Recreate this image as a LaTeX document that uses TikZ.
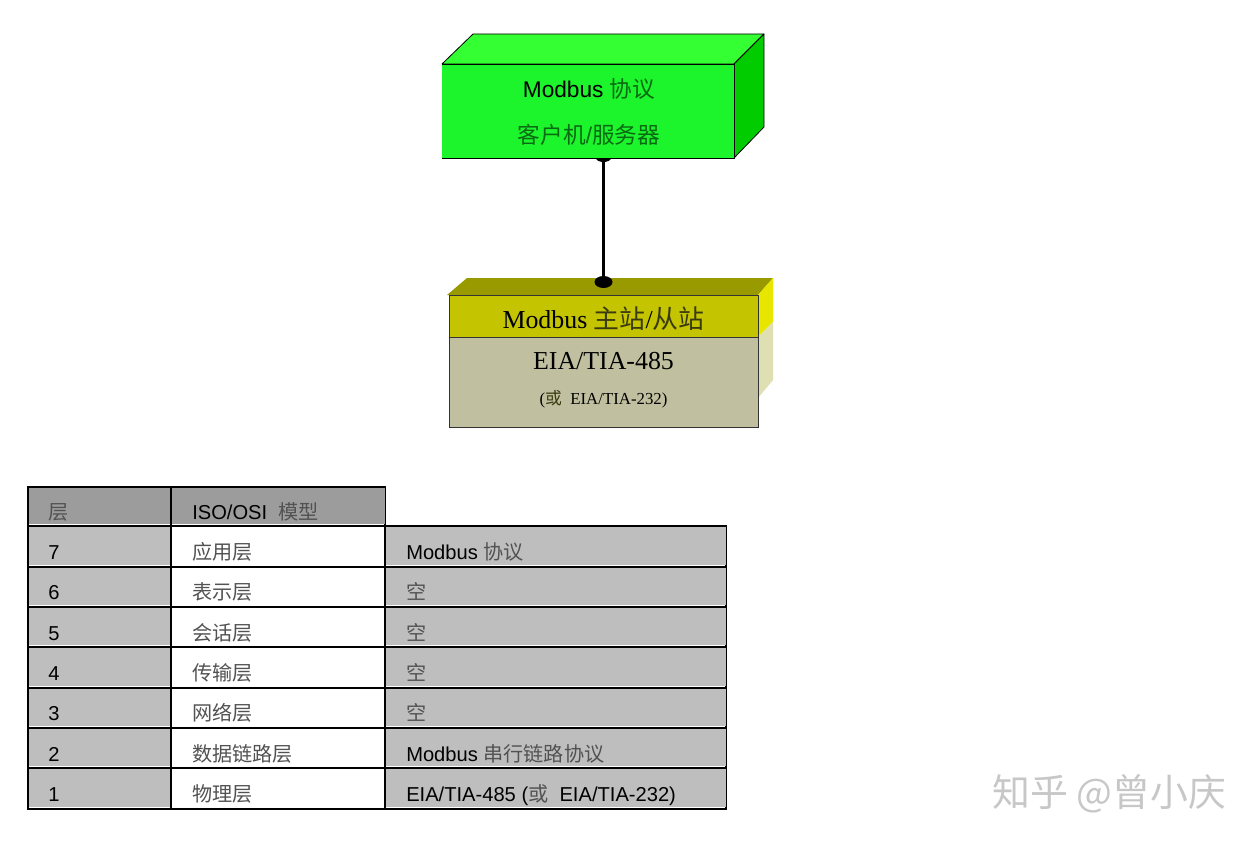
\documentclass[tikz,border=0pt]{standalone}
\usepackage{fontspec}
\setmainfont{Liberation Sans}
\newfontfamily\timesf{Liberation Serif}
\newfontfamily\cjk{Noto Sans CJK SC}
\usetikzlibrary{shapes.geometric,fit}
\definecolor{greenfront}{HTML}{1CF52C}
\definecolor{greentop}{HTML}{33FF33}
\definecolor{greenside}{HTML}{00CC00}
\definecolor{olivetop}{HTML}{999900}
\definecolor{olivefront}{HTML}{C4C400}
\definecolor{oliveside}{HTML}{E6E600}
\definecolor{khakifront}{HTML}{C0C0A0}
\definecolor{khakiside}{HTML}{DFDFB4}
\definecolor{headgray}{HTML}{9C9C9C}
\definecolor{cellgray}{HTML}{BEBEBE}
\definecolor{greeninkcjk}{HTML}{0A6A12}
\definecolor{oliveinkcjk}{HTML}{3A3A10}
\newcommand{\zh}[1]{{\cjk\color{black!68}#1}}
\newcommand{\zhc}[2]{{\cjk\color{#1}#2}}
\tikzset{
  face/.style={draw=black,line width=0.6pt,line join=round},
  softface/.style={line join=round},
  dot/.style={ellipse,fill=black,inner sep=0pt},
  box/.style={inner sep=0pt,outer sep=0pt,draw=black!80,line width=0.65pt},
  bareface/.style={inner sep=0pt,outer sep=0pt},
  label/.style={inner sep=0pt,anchor=base},
  celltxt/.style={inner sep=0pt,anchor=base west,font=\fontsize{15.1}{15}\selectfont},
  cellbox/.style={inner sep=0pt,outer sep=0pt,draw=black,line width=1.5pt,fill=white},
  cellfill/.style={inner sep=0pt,outer sep=0pt},
  mark text/.style={inner sep=0pt,anchor=base west,text=black!22,font=\cjk\fontsize{28.4}{28}\selectfont}
}
% name, x1, y1, x2, y2, fill colour
\newcommand{\tcell}[6]{%
  \node[cellbox,fit={(#2,#3)(#4,#5)}] (#1) {};
  \node[cellfill,fill=#6,fit={(#2+0.5,#3+0.5)(#4-0.5,#5-2.5)}] (#1f) {};
}
\begin{document}
\begin{tikzpicture}[x=0.75pt,y=-0.75pt]
\useasboundingbox (0,0) rectangle (1256,842);

% connector dots and line (upper dot is half hidden by the box)
\node[dot,minimum width=15*0.75pt,minimum height=8*0.75pt] (dotA) at (603.5,158) {};

% green box
\fill[greentop,face] (442,64) -- (473,34) -- (764,34) -- (734,64) -- cycle;
\fill[greenside,face] (734,64) -- (764,34) -- (764,127) -- (734,158) -- cycle;
\node[bareface,fill=greenfront,fit={(442,64)(734,158)}] (client) {};
\draw[face] (client.north west) -- (client.north east) -- (client.south east) -- (client.south west);
\node[label,font=\fontsize{17}{17}\selectfont] (clientA) at (589,98) {Modbus \zhc{greeninkcjk}{协议}};
\node[label,font=\fontsize{17}{17}\selectfont,text=greeninkcjk] (clientB) at (589,143) {\zhc{greeninkcjk}{客户机}/\zhc{greeninkcjk}{服务器}};

% olive box
\fill[olivetop,softface] (447,295) -- (467,278) -- (773,278) -- (758,295) -- cycle;
\fill[oliveside,softface] (758,295) -- (773,278) -- (773,322) -- (758,337) -- cycle;
\fill[khakiside,softface] (758,337) -- (773,322) -- (773,380) -- (758,398) -- cycle;
\node[box,fill=olivefront,fit={(449.5,295.5)(758,337)}] (master) {};
\node[box,fill=khakifront,fit={(449.5,337)(758,427)}] (phy) {};
\node[dot,minimum width=18*0.75pt,minimum height=12*0.75pt] (dotB) at (603.5,282) {};
\node[label,font=\timesf\fontsize{19.4}{19}\selectfont] (masterT) at (603.5,328) {Modbus \zhc{oliveinkcjk}{主站}/\zhc{oliveinkcjk}{从站}};
\node[label,font=\timesf\fontsize{19.4}{19}\selectfont] (phyA) at (603.5,369) {EIA/TIA-485};
\node[label,font=\timesf\fontsize{12.6}{13}\selectfont] (phyB) at (603.5,404) {(\zhc{oliveinkcjk}{或}\ \ EIA/TIA-232)};

\draw[line width=1.6pt] (dotA) -- (dotB);

% table
\tcell{h1}{28}{487}{171}{526}{headgray}
\tcell{h2}{171}{487}{385}{526}{headgray}
\tcell{a7}{28}{526}{171}{567}{cellgray}
\tcell{a6}{28}{567}{171}{607}{cellgray}
\tcell{a5}{28}{607}{171}{647}{cellgray}
\tcell{a4}{28}{647}{171}{688}{cellgray}
\tcell{a3}{28}{688}{171}{728}{cellgray}
\tcell{a2}{28}{728}{171}{768}{cellgray}
\tcell{a1}{28}{768}{171}{809}{cellgray}
\tcell{b7}{171}{526}{385}{567}{white}
\tcell{b6}{171}{567}{385}{607}{white}
\tcell{b5}{171}{607}{385}{647}{white}
\tcell{b4}{171}{647}{385}{688}{white}
\tcell{b3}{171}{688}{385}{728}{white}
\tcell{b2}{171}{728}{385}{768}{white}
\tcell{b1}{171}{768}{385}{809}{white}
\tcell{c7}{385}{526}{726}{567}{cellgray}
\tcell{c6}{385}{567}{726}{607}{cellgray}
\tcell{c5}{385}{607}{726}{647}{cellgray}
\tcell{c4}{385}{647}{726}{688}{cellgray}
\tcell{c3}{385}{688}{726}{728}{cellgray}
\tcell{c2}{385}{728}{726}{768}{cellgray}
\tcell{c1}{385}{768}{726}{809}{cellgray}

\node[celltxt] (th1) at (48,519) {\zh{层}};
\node[celltxt] (th2) at (192,519) {ISO/OSI\ \ \zh{模型}};
\node[celltxt] (t7a) at (48,559) {7};
\node[celltxt] (t6a) at (48,599) {6};
\node[celltxt] (t5a) at (48,640) {5};
\node[celltxt] (t4a) at (48,680) {4};
\node[celltxt] (t3a) at (48,720) {3};
\node[celltxt] (t2a) at (48,761) {2};
\node[celltxt] (t1a) at (48,801) {1};
\node[celltxt] (t7b) at (192,559) {\zh{应用层}};
\node[celltxt] (t6b) at (192,599) {\zh{表示层}};
\node[celltxt] (t5b) at (192,640) {\zh{会话层}};
\node[celltxt] (t4b) at (192,680) {\zh{传输层}};
\node[celltxt] (t3b) at (192,720) {\zh{网络层}};
\node[celltxt] (t2b) at (192,761) {\zh{数据链路层}};
\node[celltxt] (t1b) at (192,801) {\zh{物理层}};
\node[celltxt] (t7c) at (406,559) {Modbus \zh{协议}};
\node[celltxt] (t6c) at (406,599) {\zh{空}};
\node[celltxt] (t5c) at (406,640) {\zh{空}};
\node[celltxt] (t4c) at (406,680) {\zh{空}};
\node[celltxt] (t3c) at (406,720) {\zh{空}};
\node[celltxt] (t2c) at (406,761) {Modbus \zh{串行链路协议}};
\node[celltxt] (t1c) at (406,801) {EIA/TIA-485 (\zh{或}\ \ EIA/TIA-232)};

% watermark
\node[mark text] (wm) at (992,806) {知乎 @曾小庆};
\end{tikzpicture}
\end{document}
